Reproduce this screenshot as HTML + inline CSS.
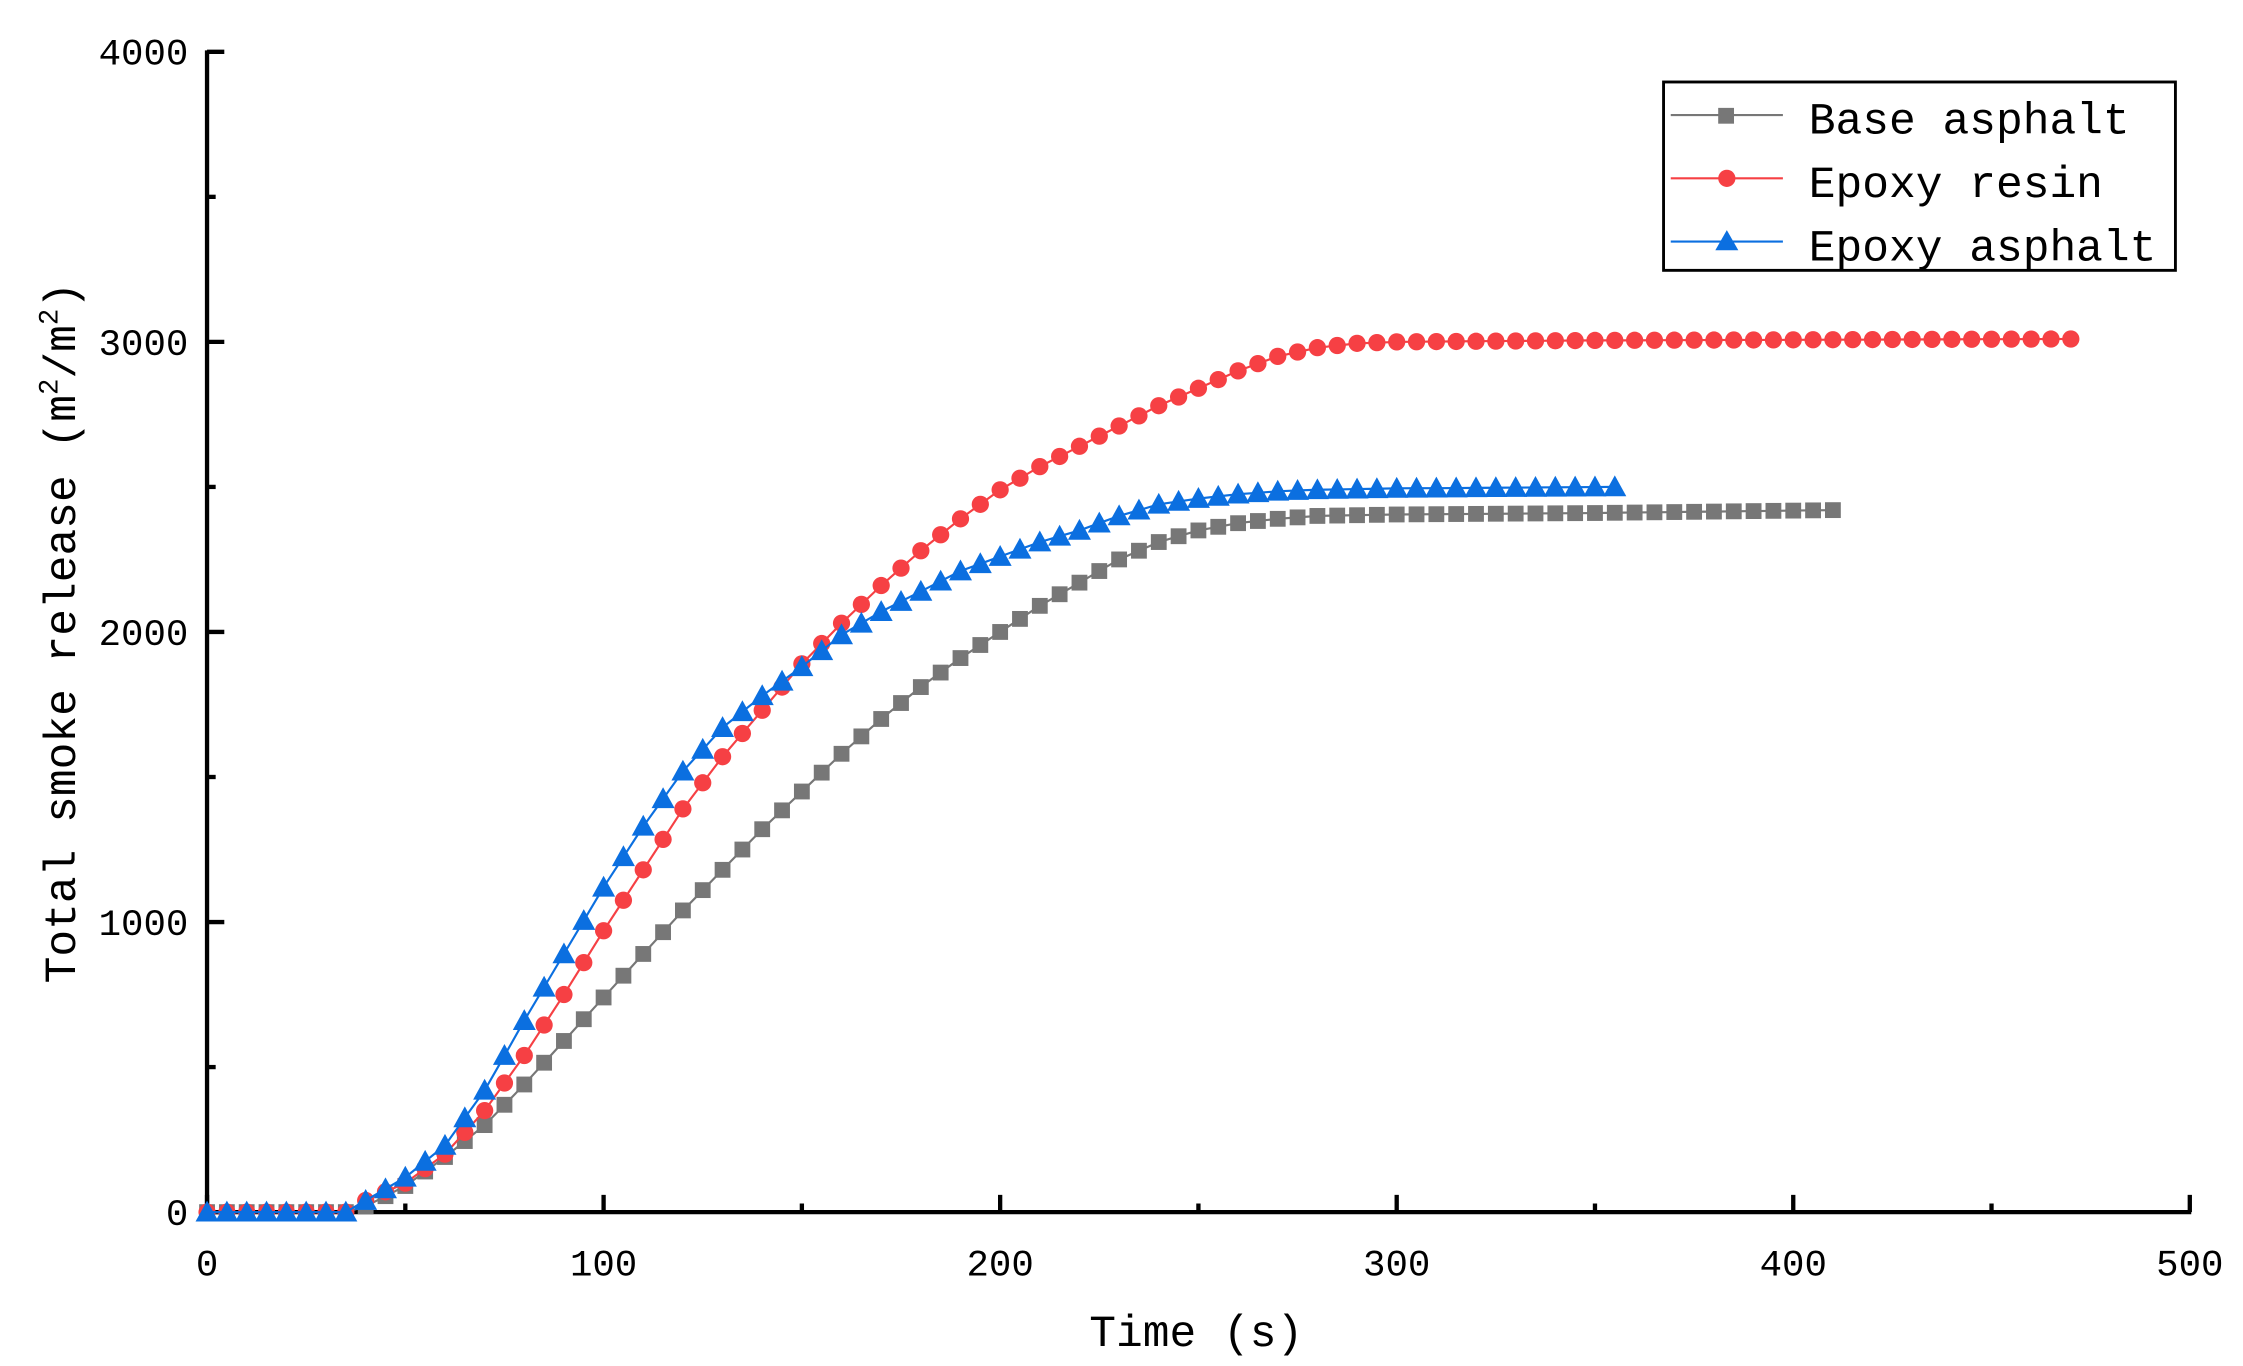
<!DOCTYPE html>
<html><head><meta charset="utf-8"><style>
html,body{margin:0;padding:0;background:#fff;}
svg{display:block}
text{font-family:"Liberation Mono",monospace;fill:#000}
</style></head><body>
<svg id="s" width="2243" height="1366" viewBox="0 0 1560 950" xmlns="http://www.w3.org/2000/svg">
<rect width="1560" height="950" fill="#fff"/>
<g id="axes" stroke="#000" stroke-width="3" fill="none">
<line x1="144" y1="35" x2="144" y2="844.5"/>
<line x1="142.5" y1="843" x2="1524" y2="843"/>
</g>
<g id="ticks" stroke="#000" stroke-width="3"></g>
<g id="labels" font-size="26"></g>
<text x="832" y="936" font-size="31" text-anchor="middle">Time (s)</text>
<text transform="translate(52,440) rotate(-90)" font-size="31" text-anchor="middle">Total smoke release (m<tspan font-size="19" dy="-12">2</tspan><tspan dy="12">/m</tspan><tspan font-size="19" dy="-12">2</tspan><tspan dy="12">)</tspan></text>
<g id="series"></g>
<g id="legend">
<rect x="1157" y="57" width="356" height="131" fill="#fff" stroke="#000" stroke-width="2"/>
<line x1="1162" y1="80" x2="1240" y2="80" stroke="#777" stroke-width="1.5"/>
<rect x="1195" y="75" width="11" height="11" fill="#777"/>
<line x1="1162" y1="124" x2="1240" y2="124" stroke="#f64044" stroke-width="1.5"/>
<circle cx="1201" cy="124" r="6" fill="#f64044"/>
<line x1="1162" y1="168" x2="1240" y2="168" stroke="#0b6fe0" stroke-width="1.5"/>
<polygon points="1201,160 1209,174 1193,174" fill="#0b6fe0"/>
<text x="1258" y="93" font-size="31">Base asphalt</text>
<text x="1258" y="137" font-size="31">Epoxy resin</text>
<text x="1258" y="181" font-size="31">Epoxy asphalt</text>
</g>
</svg>
<script>
var NS="http://www.w3.org/2000/svg";
function X(t){return 144+t*2.758;}
function Y(v){return 843-v*0.20175;}
function el(p,n,a){var e=document.createElementNS(NS,n);for(var k in a)e.setAttribute(k,a[k]);p.appendChild(e);return e;}
var tk=document.getElementById('ticks'),lb=document.getElementById('labels');
for(var t=0;t<=500;t+=50){var maj=t%100==0;el(tk,'line',{x1:X(t),x2:X(t),y1:843,y2:843-(maj?12:6)});
 if(maj){var e=el(lb,'text',{x:X(t),y:887,'text-anchor':'middle'});e.textContent=t;}}
for(var v=0;v<=4000;v+=500){var maj=v%1000==0;el(tk,'line',{x1:144,x2:144+(maj?12:6),y1:Y(v),y2:Y(v)});
 if(maj){var e=el(lb,'text',{x:131,y:Y(v)+9,'text-anchor':'end'});e.textContent=v;}}
function interp(pts,t){for(var i=0;i<pts.length-1;i++){if(t>=pts[i][0]&&t<=pts[i+1][0]){var a=pts[i],b=pts[i+1];return a[1]+(b[1]-a[1])*(t-a[0])/(b[0]-a[0]);}}return pts[pts.length-1][1];}
var base=[[0,0],[35,0],[40,20],[50,90],[60,190],[70,300],[80,440],[90,590],[100,740],[110,890],[120,1040],[130,1180],[140,1320],[150,1450],[160,1580],[170,1700],[180,1810],[190,1910],[200,2000],[210,2090],[220,2170],[230,2250],[240,2310],[250,2350],[260,2375],[270,2390],[280,2400],[300,2405],[350,2410],[410,2420]];
var resin=[[0,0],[35,0],[40,40],[50,100],[60,200],[70,350],[80,540],[90,750],[100,970],[110,1180],[120,1390],[130,1570],[140,1730],[150,1890],[160,2030],[170,2160],[180,2280],[190,2390],[200,2490],[210,2570],[220,2640],[230,2710],[240,2780],[250,2840],[260,2900],[270,2950],[280,2980],[290,2995],[300,3000],[350,3005],[470,3010]];
var ea=[[0,0],[35,0],[40,40],[50,120],[60,230],[70,420],[80,660],[90,890],[100,1120],[110,1330],[120,1520],[130,1670],[140,1780],[150,1880],[160,1990],[170,2070],[180,2140],[190,2210],[200,2260],[210,2310],[220,2350],[230,2400],[240,2440],[250,2460],[260,2475],[270,2485],[280,2490],[300,2495],[355,2500]];
var sg=document.getElementById('series');
function draw(pts,end,col,mk){var d='',P=[];for(var t=0;t<=end;t+=5){var x=X(t),y=Y(interp(pts,t));P.push([x,y]);d+=(d?'L':'M')+x.toFixed(1)+' '+y.toFixed(1);}
 el(sg,'path',{d:d,fill:'none',stroke:col,'stroke-width':1.5});
 P.forEach(function(p){if(mk=='s')el(sg,'rect',{x:p[0]-5.5,y:p[1]-5.5,width:11,height:11,fill:col});
 else if(mk=='c')el(sg,'circle',{cx:p[0],cy:p[1],r:6,fill:col});
 else el(sg,'polygon',{points:(p[0])+','+(p[1]-8)+' '+(p[0]+8)+','+(p[1]+6.5)+' '+(p[0]-8)+','+(p[1]+6.5),fill:col});});}
draw(base,410,'#777777','s');
draw(resin,470,'#f64044','c');
draw(ea,355,'#0b6fe0','t');
</script>
</body></html>
